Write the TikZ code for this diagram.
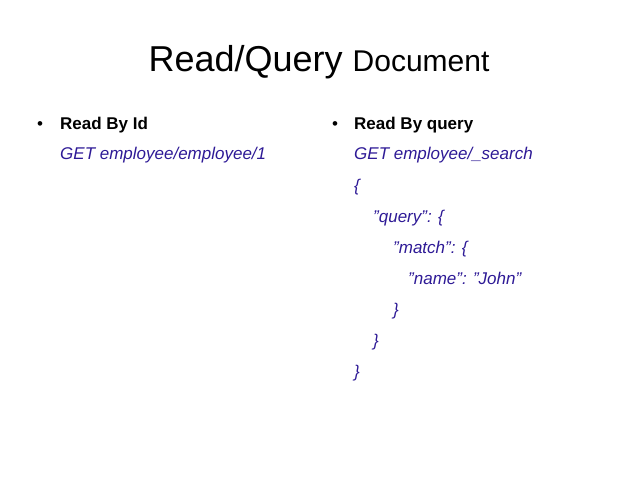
\documentclass[tikz,border=0pt]{standalone}
\usepackage{fontspec}
\setmainfont{Liberation Sans}
\definecolor{codeblue}{HTML}{2E1A96}
\begin{document}
\begin{tikzpicture}[x=1pt,y=-1pt,
  txt/.style={anchor=base west,inner sep=0pt,font=\fontsize{17}{20}\selectfont},
  code/.style={txt,text=codeblue,font=\fontsize{17}{20}\selectfont\itshape},
  head/.style={txt,font=\fontsize{17}{20}\selectfont\bfseries},
  bul/.style={txt,font=\fontsize{17}{20}\selectfont}]
\useasboundingbox (0,0) rectangle (638,478);
\node[anchor=base,inner sep=0pt] (title) at (319,72) {\fontsize{36}{40}\selectfont Read/Query \fontsize{30}{36}\selectfont Document};
\node[bul] (b1) at (37,130) {•};
\node[head] (h1) at (60,130) {Read By Id};
\node[code] (c1) at (60,160) {GET employee/employee/1};
\node[bul] (b2) at (332,130) {•};
\node[head] (h2) at (354,130) {Read By query};
\node[code] (l1) at (354,160) {GET employee/\_search};
\node[code] (l2) at (354,192) {\{};
\node[code] (l3) at (373,223) {"query": \{};
\node[code] (l4) at (393,254) {"match": \{};
\node[code] (l5) at (408,285) {"name": "John"};
\node[code] (l6) at (393,316) {\}};
\node[code] (l7) at (373,347) {\}};
\node[code] (l8) at (354,378) {\}};
\end{tikzpicture}
\end{document}
